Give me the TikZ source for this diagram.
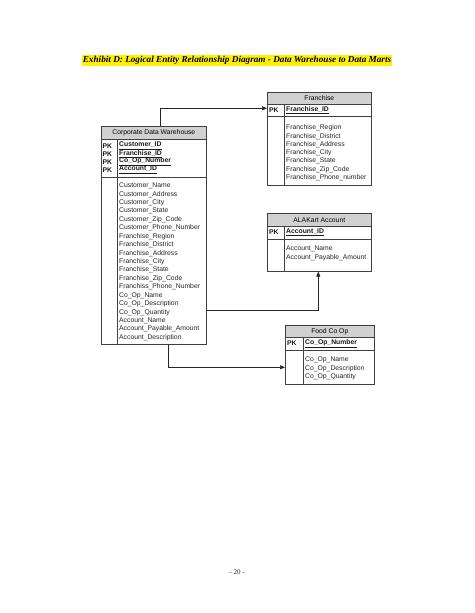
\documentclass[tikz,border=0pt]{standalone}
\usepackage{fontspec}
\setmainfont{Liberation Serif}
\setsansfont{Liberation Sans}
\usetikzlibrary{arrows.meta,calc}
\begin{document}
\begin{tikzpicture}[x=1pt,y=-1pt,
  ent/.style={draw=black!75, line width=0.6pt, inner sep=0pt, anchor=north west},
  hdr/.style={ent, fill=black!18, font=\sffamily\fontsize{6.8}{8}\selectfont},
  txt/.style={anchor=west, inner sep=0pt, font=\sffamily\fontsize{6.8}{8}\selectfont, text=black!85},
  pk/.style={anchor=west, inner sep=0pt, font=\sffamily\bfseries\fontsize{6.8}{8}\selectfont, text=black!90},
  sepline/.style={draw=black!75, line width=0.6pt},
  conn/.style={draw=black!85, line width=0.6pt, -{Triangle[length=5pt,width=4pt]}}]
\useasboundingbox (0,0) rectangle (474,613);
\fill[white] (0,0) rectangle (474,613);

% title
\node[fill=yellow, inner sep=1pt, font=\bfseries\itshape\fontsize{9.2}{11}\selectfont] (title) at (237,60.5)
  {Exhibit D: Logical Entity Relationship Diagram - Data Warehouse to Data Marts};

% Corporate Data Warehouse
\node[hdr, minimum width=105pt, minimum height=13pt] (cdwh) at (101,126) {Corporate Data Warehouse};
\node[ent, minimum width=105pt, minimum height=38pt] (cdwpk) at (101,139) {};
\node[ent, minimum width=105pt, minimum height=167pt] (cdw) at (101,177) {};
\draw[sepline] (117,139) -- (117,344);
\foreach \n [count=\i from 0] in {Customer\_ID,Franchise\_ID,Co\_Op\_Number,Account\_ID} {
  \node[pk] (cdwpkl\i) at (102.5,{146+\i*8}) {PK};
  \node[pk] (cdwpkn\i) at (119,{146+\i*8}) {\underline{\n}};
}
\foreach \n [count=\i from 0] in {Customer\_Name,Customer\_Address,Customer\_City,Customer\_State,Customer\_Zip\_Code,Customer\_Phone\_Number,Franchise\_Region,Franchise\_District,Franchise\_Address,Franchise\_City,Franchise\_State,Franchise\_Zip\_Code,Franchiss\_Phone\_Number,Co\_Op\_Name,Co\_Op\_Description,Co\_Op\_Quantity,Account\_Name,Account\_Payable\_Amount,Account\_Description} {
  \node[txt] (cdwa\i) at (119,{186+\i*8.42}) {\n};
}

% Franchise
\node[hdr, minimum width=104pt, minimum height=12pt] (frh) at (267,92) {Franchise};
\node[ent, minimum width=104pt, minimum height=12pt] (frpk) at (267,104) {};
\node[ent, minimum width=104pt, minimum height=69pt] (fra) at (267,116) {};
\draw[sepline] (284,104) -- (284,185);
\node[pk] (frpkl) at (269,110) {PK};
\node[pk] (frpkn) at (286,110) {\underline{Franchise\_ID}};
\foreach \n [count=\i from 0] in {Franchise\_Region,Franchise\_District,Franchise\_Address,Franchise\_City,Franchise\_State,Franchise\_Zip\_Code,Franchise\_Phone\_number} {
  \node[txt] (fra\i) at (286,{128+\i*8.3}) {\n};
}

% ALAKart Account
\node[hdr, minimum width=104pt, minimum height=13pt] (alah) at (267,213) {ALAKart Account};
\node[ent, minimum width=104pt, minimum height=13pt] (alapk) at (267,226) {};
\node[ent, minimum width=104pt, minimum height=32pt] (alaa) at (267,239) {};
\draw[sepline] (284,226) -- (284,271);
\node[pk] (alapkl) at (269,232.5) {PK};
\node[pk] (alapkn) at (286,232.5) {\underline{Account\_ID}};
\node[txt] (alaa0) at (286,249) {Account\_Name};
\node[txt] (alaa1) at (286,257.5) {Account\_Payable\_Amount};

% Food Co Op
\node[hdr, minimum width=89pt, minimum height=12pt] (foodh) at (285,325) {Food Co Op};
\node[ent, minimum width=89pt, minimum height=13pt] (foodpk) at (285,337) {};
\node[ent, minimum width=89pt, minimum height=34pt] (fooda) at (285,350) {};
\draw[sepline] (303,337) -- (303,384);
\node[pk] (foodpkl) at (287,343.5) {PK};
\node[pk] (foodpkn) at (305,343.5) {\underline{Co\_Op\_Number}};
\foreach \n [count=\i from 0] in {Co\_Op\_Name,Co\_Op\_Description,Co\_Op\_Quantity} {
  \node[txt] (fooda\i) at (305,{360+\i*8.5}) {\n};
}

% connectors
\draw[conn] ($(cdwh.north west)+(59,0)$) |- ([yshift=2pt]frpk.west);
\draw[conn] (cdw.east |- 0,310) -| ([xshift=-1pt]alaa.south);
\draw[conn] (cdw.south -| 168,0) |- (fooda.west);

% page number
\node[font=\fontsize{7}{8}\selectfont, text=black!85] (pg) at (237,572) {- 20 -};
\end{tikzpicture}
\end{document}
